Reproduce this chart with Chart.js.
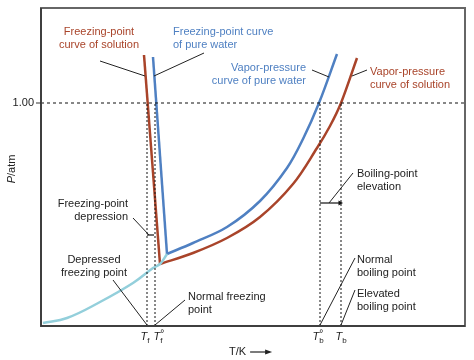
<!DOCTYPE html>
<html>
<head>
<meta charset="utf-8">
<script src="https://cdn.jsdelivr.net/npm/chart.js@4"></script>
<style>
  body { margin: 0; background: #fff; }
  #wrap { width: 474px; height: 360px; position: relative; }
</style>
</head>
<body>
<div id="wrap"><canvas id="c"></canvas></div>
<script>
// units: x = T (arbitrary), y = P (arbitrary, 223 = 1.00 atm)
const pOneAtm = 223;
const xMax = 424, yMax = 318;

// solid-vapour curve (ice)
const iceCurve = [[2,3],[26,8],[59,24],[92,43],[112,58],[119,62],[126,72]];
// freezing-point lines
const freezeSolution = [[103,271],[119,62]];
const freezeWater = [[112,269],[126,72]];
// vapour-pressure curves
const vaporWater = [[126,72],[152,83],[186,99],[219,125],[246,158],[262,187],[278,223],[296,272]];
const vaporSolution = [[119,62],[152,73],[186,88],[219,109],[252,142],[276,178],[289,200],[300,223],[316,268]];

// special temperatures on the T axis
const tempTicks = [106, 114, 279, 300];
const tempLabels = [['T','f',''], ['T','f','°'], ['T','b','°'], ['T','b','']];
const labelShift = [-2, 3, -2, 0];

// leader lines [from, to]
const leaders = [
  [[59,265],[104,250]],
  [[163,273],[113,250]],
  [[271,256],[288,249]],
  [[326,256],[311,250]],
  [[312,153],[288,123]],
  [[92,108],[108,91]],
  [[72,46],[106,1]],
  [[144,26],[114,1]],
  [[314,68],[279,1]],
  [[314,36],[300,1]]
];
// difference markers
const boilRise = [[279,123],[299,123]];
const freezeDrop = [[106,91],[113,91]];

// text labels: [x, y of first line, align, colour, lines]
const RED = '#a9442a', BLUE = '#4f80c2', LIGHT = '#93cfdb';
const notes = [
  [58, 294, 'center', RED, ['Freezing-point', 'curve of solution']],
  [132, 294, 'left', BLUE, ['Freezing-point curve', 'of pure water']],
  [265, 258, 'right', BLUE, ['Vapor-pressure', 'curve of pure water']],
  [329, 254, 'left', RED, ['Vapor-pressure', 'curve of solution']],
  [316, 152, 'left', '#222', ['Boiling-point', 'elevation']],
  [87, 122, 'right', '#222', ['Freezing-point', 'depression']],
  [53, 66, 'center', '#222', ['Depressed', 'freezing point']],
  [147, 29, 'left', '#222', ['Normal freezing', 'point']],
  [316, 66, 'left', '#222', ['Normal', 'boiling point']],
  [316, 32, 'left', '#222', ['Elevated', 'boiling point']]
];

const pts = a => a.map(p => ({ x: p[0], y: p[1] }));
const FONT = '"Liberation Sans", Arial, sans-serif';

const datasets = [];
function addLine(data, color, width, extra) {
  datasets.push(Object.assign({
    type: 'line', data: pts(data), borderColor: color, borderWidth: width,
    pointRadius: 0, fill: false, tension: 0
  }, extra || {}));
}

// dashed guide lines
addLine([[0,pOneAtm],[xMax,pOneAtm]], '#111', 1, { borderDash: [3,3] });
tempTicks.forEach(t => addLine([[t,0],[t,pOneAtm]], '#111', 1, { borderDash: [2,2] }));
// leaders
leaders.forEach(l => addLine(l, '#222', 1));
addLine(boilRise, '#111', 1.2, { pointRadius: [0,3], pointStyle: 'triangle', rotation: 90, pointBackgroundColor: '#111', pointBorderWidth: 0 });
addLine(freezeDrop, '#111', 1.2);
// curves
addLine(iceCurve, LIGHT, 2.5, { tension: 0.4 });
addLine(freezeWater, BLUE, 2.5);
addLine(vaporWater, BLUE, 2.5, { tension: 0.35 });
addLine(freezeSolution, RED, 2.5);
addLine(vaporSolution, RED, 2.5, { tension: 0.35 });

const decor = {
  id: 'decor',
  afterDraw(chart) {
    const ctx = chart.ctx, a = chart.chartArea;
    const xs = chart.scales.x, ys = chart.scales.y;
    ctx.save();
    // frame
    ctx.strokeStyle = '#666'; ctx.lineWidth = 2;
    ctx.strokeRect(a.left, a.top, a.right - a.left, a.bottom - a.top);
    ctx.strokeStyle = '#333'; ctx.lineWidth = 1.5;
    ctx.beginPath();
    ctx.moveTo(a.left, a.top); ctx.lineTo(a.left, a.bottom); ctx.lineTo(a.right, a.bottom);
    ctx.stroke();

    // y tick 1.00
    const y1 = ys.getPixelForValue(pOneAtm);
    ctx.lineWidth = 1;
    ctx.beginPath(); ctx.moveTo(a.left - 5, y1); ctx.lineTo(a.left, y1); ctx.stroke();
    ctx.fillStyle = '#222';
    ctx.font = '11px ' + FONT;
    ctx.textAlign = 'right'; ctx.textBaseline = 'middle';
    ctx.fillText('1.00', a.left - 7, y1);

    // y title
    ctx.save();
    ctx.translate(12, (a.top + a.bottom) / 2 + 2);
    ctx.rotate(-Math.PI / 2);
    ctx.textAlign = 'left';
    const w1 = ctx.measureText('/atm').width;
    ctx.font = 'italic 11px ' + FONT;
    const wp = ctx.measureText('P').width;
    const x0 = -(w1 + wp) / 2;
    ctx.fillText('P', x0, 0);
    ctx.font = '11px ' + FONT;
    ctx.fillText('/atm', x0 + wp, 0);
    ctx.restore();

    // x tick labels
    tempTicks.forEach((t, i) => {
      const px = xs.getPixelForValue(t) + labelShift[i];
      const [m, sub, sup] = tempLabels[i];
      ctx.font = 'italic 11px ' + FONT;
      const wm = ctx.measureText(m).width;
      ctx.font = '8px ' + FONT;
      const ws = ctx.measureText(sub).width;
      const left = px - (wm + ws) / 2;
      ctx.textAlign = 'left'; ctx.textBaseline = 'alphabetic';
      ctx.font = 'italic 11px ' + FONT;
      ctx.fillText(m, left, a.bottom + 14);
      ctx.font = '8px ' + FONT;
      ctx.fillText(sub, left + wm, a.bottom + 17);
      if (sup) { ctx.font = '10px ' + FONT; ctx.fillText(sup, left + wm, a.bottom + 11); }
    });

    // x title
    ctx.font = '11px ' + FONT;
    ctx.textAlign = 'left'; ctx.textBaseline = 'middle';
    const tx = 229, ty = a.bottom + 26;
    ctx.fillText('T/K', tx, ty);
    const ax = tx + ctx.measureText('T/K').width + 4;
    ctx.lineWidth = 1.3;
    ctx.beginPath(); ctx.moveTo(ax, ty); ctx.lineTo(ax + 19, ty); ctx.stroke();
    ctx.beginPath(); ctx.moveTo(ax + 22, ty); ctx.lineTo(ax + 15, ty - 2.5); ctx.lineTo(ax + 15, ty + 2.5); ctx.closePath(); ctx.fill();

    // notes
    ctx.font = '11px ' + FONT;
    ctx.textBaseline = 'middle';
    notes.forEach(n => {
      const [x, y, align, color, lines] = n;
      ctx.fillStyle = color; ctx.textAlign = align;
      lines.forEach((s, k) => ctx.fillText(s, xs.getPixelForValue(x), ys.getPixelForValue(y) + k * 12.5));
    });
    ctx.restore();
  }
};

new Chart(document.getElementById('c'), {
  type: 'scatter',
  data: { datasets },
  options: {
    responsive: true,
    maintainAspectRatio: false,
    animation: false,
    layout: { padding: { left: 41, top: 8, right: 9, bottom: 34 } },
    plugins: { legend: { display: false }, tooltip: { enabled: false } },
    scales: {
      x: { type: 'linear', min: 0, max: xMax, display: false },
      y: { type: 'linear', min: 0, max: yMax, display: false }
    }
  },
  plugins: [decor]
});
</script>
</body>
</html>
